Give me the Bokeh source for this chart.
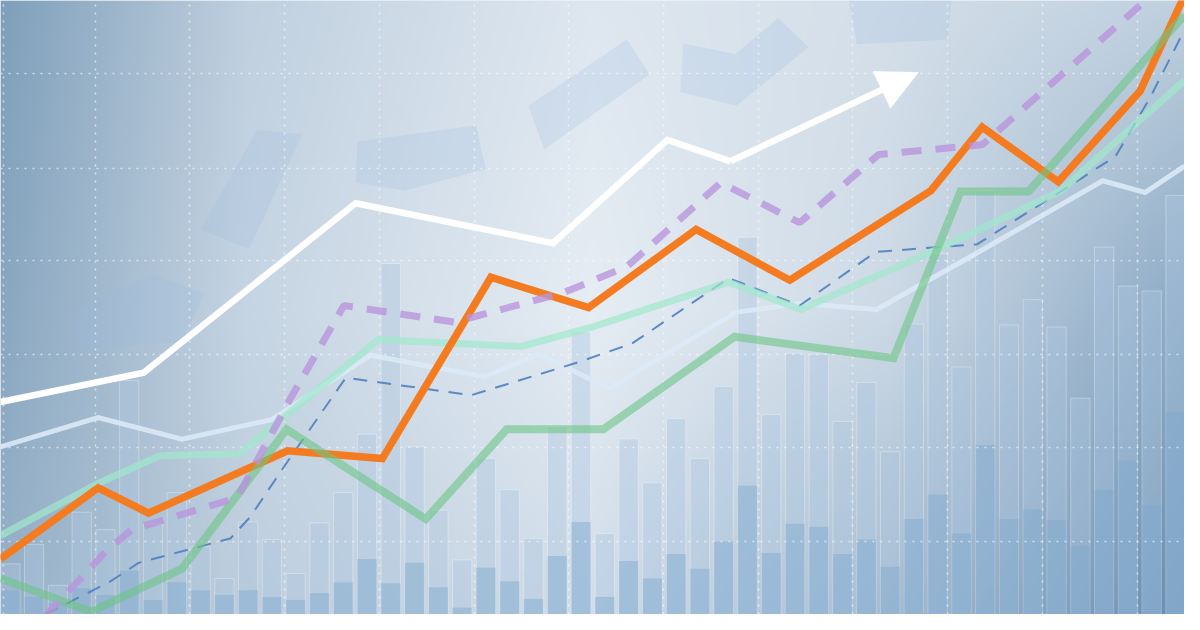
import numpy as np
from bokeh.plotting import figure
from bokeh.models import Range1d, FixedTicker, Arrow, NormalHead
from bokeh.embed import file_html
from bokeh.resources import INLINE

# ---------------- data ----------------
# bar series (index 0..49), heights
bar_index = list(range(50))
bar_tall = [52, 72, 30, 105, 87, 240, 93, 125, 70, 37, 95, 77, 42, 94, 125, 185, 360, 172, 107, 56,
            160, 128, 78, 193, 290, 83, 180, 135, 201, 160, 234, 387, 205, 268, 267, 198, 238, 167, 298, 370,
            254, 435, 297, 323, 295, 222, 377, 337, 332, 430]
bar_short = [25, 18, 12, 27, 20, 45, 15, 33, 25, 20, 25, 18, 15, 22, 33, 57, 32, 53, 28, 7,
             48, 34, 16, 60, 95, 18, 55, 37, 62, 47, 75, 132, 63, 93, 90, 62, 77, 49, 98, 123,
             83, 174, 98, 108, 97, 70, 128, 158, 112, 208]

white_x = [0, 145, 360, 560, 676, 740, 930]
white_v = [218, 248, 422, 381, 487, 465, 556]

orange_x = [0, 99, 150, 291, 387, 497, 596, 705, 800, 943, 995, 1072, 1155, 1200]
orange_v = [57, 130, 104, 168, 160, 346, 315, 395, 343, 435, 500, 444, 537, 635]

green_x = [0, 92, 184, 290, 431, 513, 611, 744, 905, 973, 1042, 1200]
green_v = [37, 3, 47, 190, 98, 190, 190, 285, 263, 434, 434, 615]

mint_x = [0, 100, 162, 242, 383, 528, 600, 738, 811, 950, 1075, 1200]
mint_v = [81, 135, 163, 165, 282, 275, 295, 341, 313, 375, 435, 548]

pale_x = [0, 99, 184, 275, 375, 490, 546, 617, 745, 810, 888, 995, 1117, 1160, 1200]
pale_v = [172, 202, 180, 200, 266, 244, 267, 232, 310, 319, 313, 374, 445, 433, 460]

bdash_x = [45, 110, 140, 233, 253, 293, 350, 477, 583, 640, 738, 810, 887, 990, 1073, 1130, 1165, 1200]
bdash_v = [0, 33, 53, 78, 100, 160, 243, 225, 258, 278, 345, 317, 372, 380, 433, 470, 530, 600]

purple_x = [45, 107, 133, 240, 293, 348, 460, 570, 635, 730, 810, 890, 975, 995, 1155]
purple_v = [-2, 65, 87, 120, 220, 317, 300, 330, 357, 443, 402, 472, 480, 482, 625]

grid_x = [3, 96, 192, 288, 384, 480, 576, 672, 768, 864, 960, 1056, 1152]
grid_y = [75, 171, 267, 363, 458, 555]

# faint background ribbon pieces
decor_xs = [[77, 153, 207, 184, 77],
            [260, 306, 252, 203],
            [362, 482, 492, 410, 360],
            [535, 635, 658, 551],
            [692, 745, 788, 819, 746, 689],
            [860, 964, 960, 868]]
decor_ys = [[313, 349, 329, 280, 272],
            [497, 493, 375, 395],
            [485, 502, 457, 435, 443],
            [522, 590, 554, 477],
            [586, 575, 612, 582, 522, 536],
            [630, 630, 590, 585]]

# ---------------- background gradient ----------------
ctrl_x = [0, 250, 600, 900, 1200]
ctrl_rows = [  # top, middle, bottom
    [(127, 159, 186), (192, 208, 223), (222, 231, 240), (212, 223, 233), (192, 208, 223)],
    [(138, 167, 192), (198, 213, 227), (230, 237, 244), (205, 218, 230), (140, 170, 197)],
    [(150, 177, 200), (190, 206, 221), (208, 221, 233), (165, 188, 209), (105, 142, 177)],
]
W, H = 600, 315
xs = np.linspace(0, 1200, W)
ys_top = np.linspace(0, 630, H)
img = np.zeros((H, W, 4), dtype=np.uint8)
for c in range(3):
    rows = np.array([np.interp(xs, ctrl_x, [col[c] for col in r]) for r in ctrl_rows])
    chan = np.empty((H, W))
    for j in range(W):
        chan[:, j] = np.interp(ys_top, [0, 315, 630], rows[:, j])
    img[:, :, c] = np.clip(chan, 0, 255).astype(np.uint8)
img[:, :, 3] = 255
img = np.ascontiguousarray(img[::-1])  # bottom row first
img32 = img.view(dtype=np.uint32).reshape((H, W))

# ---------------- figure ----------------
p = figure(width=1184, height=614, x_range=Range1d(0, 1200), y_range=Range1d(0, 630),
           output_backend="svg", toolbar_location=None, min_border=0)
p.axis.visible = False
p.outline_line_color = None
p.background_fill_color = "#dfe8f0"
p.border_fill_color = "#dfe8f0"
p.extra_x_ranges = {"bars": Range1d(-0.415, 49.38)}

p.image_rgba(image=[img32], x=0, y=0, dw=1200, dh=630, level="image")

p.patches(decor_xs, decor_ys, fill_color="#9dbbe0", fill_alpha=0.22, line_color=None, level="image")

p.vbar(x=bar_index, top=bar_tall, bottom=0, width=0.81, x_range_name="bars",
       fill_color="#adc6de", fill_alpha=0.4, line_color="white", line_alpha=0.3, line_width=1,
       level="image")
p.vbar(x=bar_index, top=bar_short, bottom=0, width=0.81, x_range_name="bars",
       fill_color="#7fa9cf", fill_alpha=0.45, line_color=None, level="image")

p.xgrid.ticker = FixedTicker(ticks=grid_x)
p.ygrid.ticker = FixedTicker(ticks=grid_y)
p.grid.grid_line_color = "white"
p.grid.grid_line_alpha = 0.6
p.grid.grid_line_width = 1.5
p.grid.grid_line_dash = "2 6"

p.line(pale_x, pale_v, line_color="#dbe9f6", line_alpha=0.9, line_width=5, line_join="miter")
p.line(bdash_x, bdash_v, line_color="#4f7fbf", line_alpha=0.9, line_width=2, line_dash="14 10")
p.line(mint_x, mint_v, line_color="#9fe8cc", line_alpha=0.7, line_width=7, line_join="miter")
p.line(orange_x, orange_v, line_color="#f47b20", line_width=7.5, line_join="miter")
p.line(green_x, green_v, line_color="#6cc486", line_alpha=0.6, line_width=8, line_join="miter")
p.line(purple_x, purple_v, line_color="#b894dc", line_alpha=0.78, line_width=7, line_dash="20 14")
p.line(white_x[:-1], white_v[:-1], line_color="white", line_width=6.5, line_join="miter")
p.add_layout(Arrow(end=NormalHead(size=40, fill_color="white", line_color="white"),
                   x_start=white_x[-2], y_start=white_v[-2], x_end=white_x[-1], y_end=white_v[-1],
                   line_color="white", line_width=6.5))

open("out.html", "w").write(file_html(p, INLINE))
